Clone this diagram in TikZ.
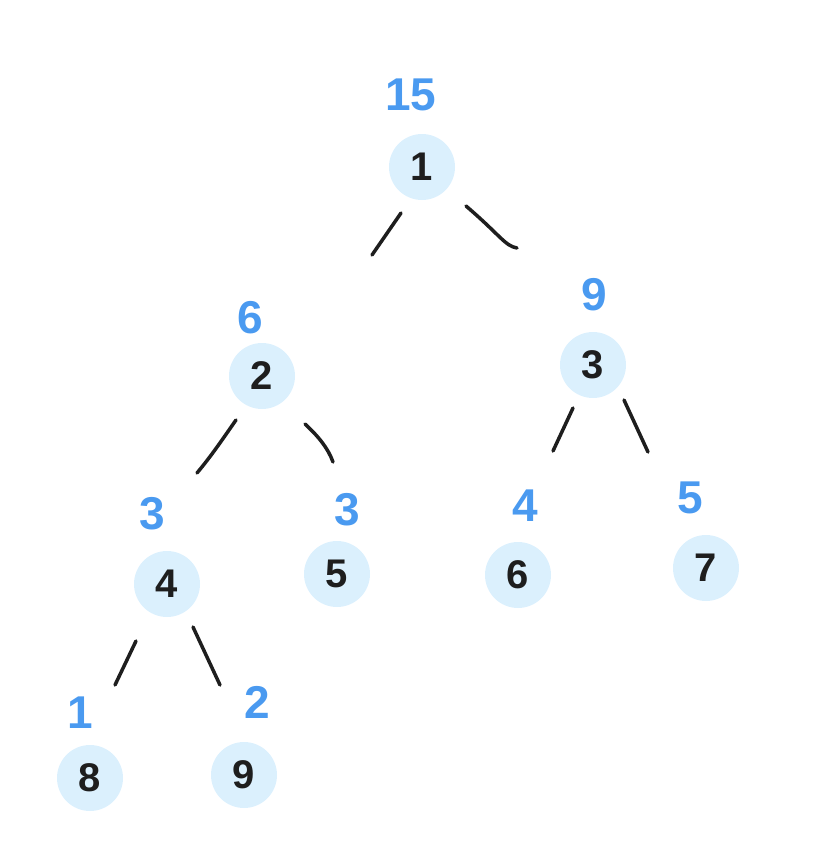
\documentclass[tikz,border=0pt]{standalone}
\usepackage{fontspec}
\setmainfont{Liberation Sans}
\definecolor{nodefill}{HTML}{DBF0FD}
\definecolor{sumblue}{HTML}{4A9AF0}
\definecolor{ink}{HTML}{1E1E1E}
\begin{document}
\begin{tikzpicture}[x=1pt,y=-1pt,
  tnode/.style={circle,fill=nodefill,minimum size=66pt,inner sep=0pt,text=ink,font=\fontsize{40}{40}\selectfont\bfseries},
  sumlabel/.style={text=sumblue,font=\fontsize{46}{46}\selectfont\bfseries,inner sep=0pt},
  edge/.style={draw=ink,line width=3.5pt,line cap=round,line join=round}]
\useasboundingbox (0,0) rectangle (814,860);
% tree nodes
\node[tnode] (n1) at (422,167) {1};
\node[tnode] (n2) at (262,376) {2};
\node[tnode] (n3) at (593,365) {3};
\node[tnode] (n4) at (167,584) {4};
\node[tnode] (n5) at (337,574) {5};
\node[tnode] (n6) at (518,575) {6};
\node[tnode] (n7) at (706,568) {7};
\node[tnode] (n8) at (90,778) {8};
\node[tnode] (n9) at (244,775) {9};
% subtree sums
\node[sumlabel] (s1) at (411,95) {15};
\node[sumlabel] (s2) at (250,318) {6};
\node[sumlabel] (s3) at (594,295) {9};
\node[sumlabel] (s4) at (152,514) {3};
\node[sumlabel] (s5) at (347,510) {3};
\node[sumlabel] (s6) at (525,506) {4};
\node[sumlabel] (s7) at (690,498) {5};
\node[sumlabel] (s8) at (80,713) {1};
\node[sumlabel] (s9) at (257,702) {2};
% edge end points
\coordinate (e12a) at (401,213); \coordinate (e12b) at (372,255);
\coordinate (e13a) at (466,206); \coordinate (e13b) at (517,248);
\coordinate (e24a) at (236,420); \coordinate (e24b) at (197,473);
\coordinate (e25a) at (305,424); \coordinate (e25b) at (333,462);
\coordinate (e36a) at (573,408); \coordinate (e36b) at (553,451);
\coordinate (e37a) at (624,400); \coordinate (e37b) at (648,452);
\coordinate (e48a) at (136,641); \coordinate (e48b) at (115,685);
\coordinate (e49a) at (193,627); \coordinate (e49b) at (220,685);
\draw[edge] (e12a) -- (e12b);
\draw[edge] (e13a) .. controls (500,235) and (505,246) .. (e13b);
\draw[edge] (e24a) .. controls (222,440) and (212,455) .. (e24b);
\draw[edge] (e25a) .. controls (318,436) and (328,448) .. (e25b);
\draw[edge] (e36a) -- (e36b);
\draw[edge] (e37a) -- (e37b);
\draw[edge] (e48a) -- (e48b);
\draw[edge] (e49a) -- (e49b);
\end{tikzpicture}
\end{document}
